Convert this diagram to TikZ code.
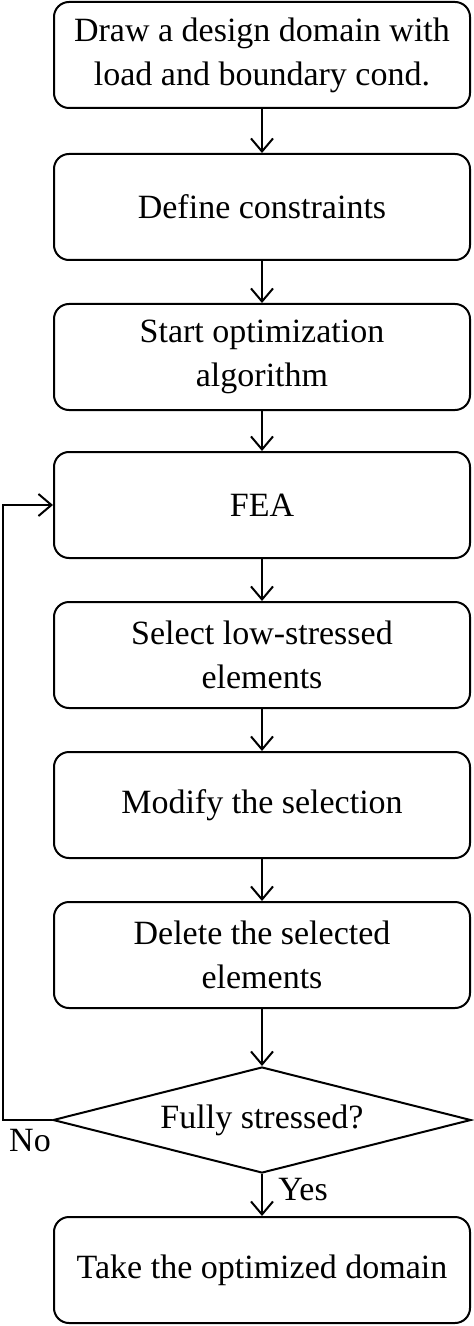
\documentclass[tikz,border=0pt]{standalone}
\usepackage{fontspec}
\setmainfont{Liberation Serif}
\usetikzlibrary{arrows.meta, shapes.geometric, positioning}
\tikzset{
    stepbox/.style={draw, line width=1pt, rounded corners=7.5pt,
        minimum width=208pt, minimum height=53pt, align=center,
        inner sep=2pt, font=\fontsize{17}{22}\selectfont},
    decision/.style={draw, line width=1pt, diamond, aspect=3.93,
        minimum width=209pt, minimum height=53pt, inner sep=0pt,
        font=\fontsize{17}{22}\selectfont},
    flowlabel/.style={inner sep=0pt, font=\fontsize{17}{22}\selectfont},
    flow/.style={-{Straight Barb[length=6.5pt,width=11pt]}, line width=1pt}
}
\begin{document}
\begin{tikzpicture}[x=0.5pt, y=-0.5pt]
    \useasboundingbox (0,0) rectangle (474,1326);
    % Steps, one pitch of 150 px between boxes
    \node[stepbox] (domain)  at (262,55)  {Draw a design domain with\\load and boundary cond.};
    \node[stepbox] (constr)  at (262,207) {Define constraints};
    \node[stepbox] (startopt) at (262,357) {Start optimization\\algorithm};
    \node[stepbox] (fea)     at (262,505) {FEA};
    \node[stepbox] (select)  at (262,655) {Select low-stressed\\elements};
    \node[stepbox] (modify)  at (262,805) {Modify the selection};
    \node[stepbox] (delete)  at (262,955) {Delete the selected\\elements};
    \node[decision] (stressed) at (262,1120) {Fully stressed?};
    \node[stepbox] (result)  at (262,1270) {Take the optimized domain};

    % Connectors
    \draw[flow] (domain) -- (constr);
    \draw[flow] (constr) -- (startopt);
    \draw[flow] (startopt) -- (fea);
    \draw[flow] (fea) -- (select);
    \draw[flow] (select) -- (modify);
    \draw[flow] (modify) -- (delete);
    \draw[flow] (delete) -- (stressed);
    \draw[flow] (stressed) -- (result);

    % Loop back on No
    \coordinate (loopcorner) at (3,1120);
    \draw[flow] (stressed.west) -- (loopcorner) |- (fea.west);

    \node[flowlabel] (nolabel)  at (30,1141)  {No};
    \node[flowlabel] (yeslabel) at (303,1190) {Yes};
\end{tikzpicture}
\end{document}
